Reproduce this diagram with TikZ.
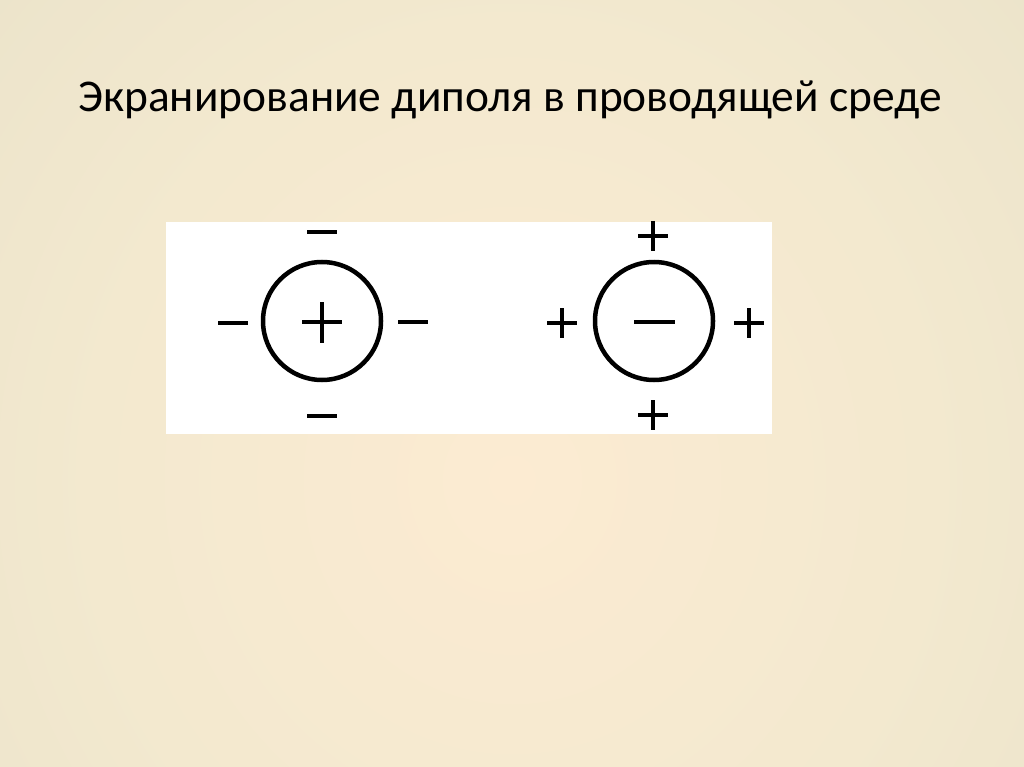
\documentclass[tikz,border=0pt]{standalone}
\usepackage{fontspec}
\setmainfont{Carlito}
\usetikzlibrary{shapes, positioning}
\definecolor{bgcenter}{HTML}{FCEBD2}
\definecolor{bgmid}{HTML}{F3E9CF}
\definecolor{bgedge}{HTML}{E4DEC6}
\definecolor{bgcorner}{HTML}{D4CDB0}
\pgfdeclareradialshading{slidebg}{\pgfpoint{0bp}{0bp}}{color(0bp)=(bgcenter); color(20bp)=(bgmid); color(48bp)=(bgedge); color(71bp)=(bgcorner)}
\tikzset{
  ball/.style={draw, circle, line width=4.5pt, minimum size=118pt, inner sep=0pt},
  sign/.style={line width=3.2pt},
  bigsign/.style={line width=3.8pt}
}

\begin{document}
\begin{tikzpicture}[x=1pt, y=-1pt]
    \useasboundingbox (0,0) rectangle (1024,767);
    % slide background
    \begin{scope}
      \clip (0,0) rectangle (1024,767);
      \fill[shading=slidebg] (-10,-80) rectangle (1034,1040);
    \end{scope}
    \node[anchor=base, font=\fontsize{45.4}{50}\selectfont] (title) at (510,112) {Экранирование диполя в проводящей среде};
    \fill[white] (166,222) rectangle (772,434);
    %
    % positive charge, screened by minus signs
    \node[ball] (pos) at (322,321) {};
    \draw[bigsign] (302,322) -- (342,322) (322,302) -- (322,343);
    \foreach \x/\y in {322/232, 322/416, 233/323, 413/322}
        \draw[sign] (\x-15,\y) -- (\x+15,\y);
    %
    % negative charge, screened by plus signs
    \node[ball] (neg) at (654,321) {};
    \draw[bigsign] (634,322) -- (675,322);
    \foreach \x/\y in {653/236, 653/415, 562/323, 749/323}
        \draw[sign] (\x-15,\y) -- (\x+15,\y) (\x,\y-15) -- (\x,\y+15);
\end{tikzpicture}
\end{document}
